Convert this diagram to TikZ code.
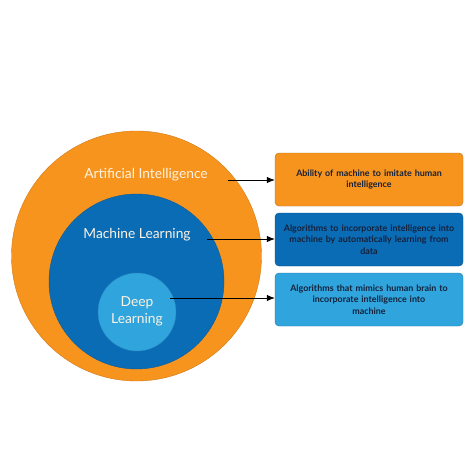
\documentclass[tikz,border=0pt]{standalone}
\usepackage{fontspec}
\setmainfont{Lato}
\usetikzlibrary{positioning, arrows.meta}

\definecolor{aiorange}{HTML}{F7941D}
\definecolor{aiedge}{HTML}{D27A16}
\definecolor{mlblue}{HTML}{0B6CB6}
\definecolor{dlblue}{HTML}{2FA4DD}
\definecolor{labelwhite}{HTML}{FDF3E3}
\definecolor{boxtext}{HTML}{14213A}

\begin{document}
\begin{tikzpicture}[x=1pt, y=-1pt,
    circle label/.style={text=labelwhite, font=\fontsize{13.8}{17}\selectfont, align=center},
    info box/.style={fill=#1, draw=#1!75!black, rounded corners=4pt, minimum width=188pt,
        minimum height=53pt, text width=180pt, align=center, inner sep=0pt,
        text=boxtext, font=\fontsize{8.9}{11.5}\selectfont\bfseries},
    pointer/.style={-{Latex[length=8pt, width=6.5pt]}, thick}]
    \useasboundingbox (0,0) rectangle (474,474);

    % nested circles
    \node[circle, fill=aiorange, draw=aiedge, minimum size=250pt, inner sep=0pt] (ai) at (136.5,256) {};
    \node[circle, fill=mlblue, draw=mlblue!85!black, minimum size=175pt, inner sep=0pt] (ml) at (136.5,281.5) {};
    \node[circle, fill=dlblue, draw=dlblue!85!black, minimum size=78pt, inner sep=0pt] (dl) at (137,312) {};

    % circle labels
    \node[circle label] (ailabel) at (146,175) {Artificial Intelligence};
    \node[circle label] (mllabel) at (137,235) {Machine Learning};
    \node[circle label] (dllabel) at (137,311) {Deep\\Learning};

    % description boxes
    \node[info box=aiorange] (aibox) at (369,179.5) {Ability of machine to imitate human\\intelligence};
    \node[info box=mlblue] (mlbox) at (369,239.5) {Algorithms to incorporate intelligence into\\machine by automatically learning from\\data};
    \node[info box=dlblue] (dlbox) at (369,299.5) {Algorithms that mimics human brain to\\incorporate intelligence into\\machine};

    % arrow starts
    \foreach \name/\x/\y in {ai/228/180, ml/207/239, dl/170/298}
        \coordinate (\name start) at (\x,\y);

    \foreach \name in {ai, ml, dl}
        \draw[pointer] (\name start) -- (\name start -| \name box.west);
\end{tikzpicture}
\end{document}
